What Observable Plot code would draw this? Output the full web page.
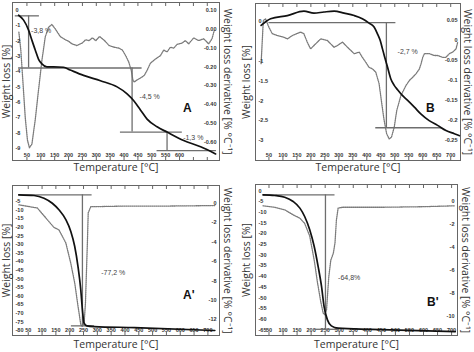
<!DOCTYPE html>
<html><head><meta charset="utf-8">
<script src="https://cdn.jsdelivr.net/npm/d3@7"></script>
<script src="https://cdn.jsdelivr.net/npm/@observablehq/plot@0.6"></script>
<style>
body{margin:0;background:#fff;}
#root{position:relative;width:474px;height:352px;overflow:hidden;background:#fff;}
.panel{position:absolute;width:237px;height:176px;}
.panel svg{position:absolute;left:0;top:0;}
</style></head><body><div id="root"></div>
<script>
// ---------- shared tick values ----------
const tempTickMarks = [50,100,150,200,250,300,350,400,450,500,550,600,650,700];
const tempLabelsA = [50,100,150,200,250,300,350,400,450,500,550,600];
const tempLabels = [50,100,150,200,250,300,350,400,450,500,550,600,650,700];

// ---------- Panel A ----------
const aWeightTemp = [20,38,56,68,80,92,104,122,146,182,206,254,315,375,411,435,459,483,519,555,615,676,730];
const aWeight = [-0.33,-0.65,-1.3,-1.96,-2.6,-3.2,-3.5,-3.7,-3.7,-3.72,-3.9,-4.25,-4.6,-5.0,-5.45,-5.9,-6.5,-7.1,-7.6,-7.95,-8.5,-8.9,-9.37];
const aDerivTemp = [21,28,36,44,52,59,68,80,92,104,116,128,140,152,170,188,200,212,230,249,262,274,286,298,312,330,346,364,382,394,406,417,426,432,437,446,458,473,483,495,513,531,543,555,567,579,591,609,621,633,651,669,687,705,717,725];
const aDeriv = [-0.015,-0.11,-0.29,-0.47,-0.59,-0.63,-0.61,-0.48,-0.32,-0.165,-0.04,0.011,0.026,0.003,-0.038,-0.055,-0.063,-0.077,-0.086,-0.073,-0.055,-0.06,-0.045,-0.06,-0.038,-0.06,-0.086,-0.095,-0.1,-0.11,-0.14,-0.174,-0.218,-0.27,-0.28,-0.27,-0.26,-0.245,-0.218,-0.18,-0.158,-0.14,-0.11,-0.12,-0.095,-0.1,-0.08,-0.073,-0.06,-0.077,-0.045,-0.06,-0.05,-0.077,-0.05,-0.006];
const aLeftTicks = [0,-1,-2,-3,-4,-5,-6,-7,-8,-9];
const aRightTicks = [0.10,0.00,-0.10,-0.20,-0.30,-0.40,-0.50,-0.60];
const aHLines = [{v:-0.37,a:8,b:95},{v:-3.77,a:20,b:465},{v:-7.95,a:387,b:610},{v:-9.15,a:519,b:733}];
const aVLines = [{t:56,a:-0.37,b:-3.77},{t:429,a:-3.77,b:-7.95},{t:555,a:-7.95,b:-9.15}];
const aNotes = [{t:65,v:-1.35,label:"-3,8 %"},{t:456,v:-5.67,label:"-4,5 %"},{t:613,v:-8.3,label:"-1,3 %"}];
const aLetter = [{t:628,v:-6.36,label:"A"}];

// ---------- Panel B ----------
const bWeightTemp = [22,56,116,175,211,247,283,319,355,384,408,426,438,448,456,464,474,486,498,510,528,546,570,593,623,653,683,713,731];
const bWeight = [-0.10,0.07,0.15,0.26,0.21,0.24,0.26,0.21,0.15,0.07,-0.04,-0.14,-0.31,-0.48,-0.69,-0.9,-1.15,-1.45,-1.61,-1.72,-1.87,-1.99,-2.16,-2.33,-2.5,-2.62,-2.75,-2.83,-2.88];
const bDerivTemp = [22,30,38,50,62,80,104,116,134,163,175,187,199,211,235,259,283,295,313,331,355,373,384,396,408,420,432,444,452,462,471,480,488,498,507,522,540,552,564,576,588,594,600,606,624,641,653,671,683,695,707,719,725];
const bDeriv = [-0.058,0.05,0.054,0.033,0.017,0.0125,0.008,0.004,0.0125,0.021,0.017,-0.004,-0.021,-0.0125,0.004,0,-0.017,-0.0125,-0.004,-0.017,-0.033,-0.029,-0.042,-0.054,-0.067,-0.071,-0.079,-0.108,-0.15,-0.2,-0.233,-0.246,-0.242,-0.217,-0.175,-0.1375,-0.1125,-0.1,-0.092,-0.083,-0.071,-0.058,-0.042,-0.033,-0.033,-0.0375,-0.0375,-0.042,-0.042,-0.033,-0.029,-0.021,-0.004];
const bLeftTicks = [0,-1,-1.5,-2,-2.5,-3];
const bRightTicks = [0.05,0,-0.05,-0.1,-0.15,-0.2,-0.25];
const bHLines = [{v:-0.03,a:50,b:504},{v:-2.68,a:432,b:671}];
const bVLines = [{t:470,a:-0.03,b:-2.68}];
const bNotes = [{t:510,v:-0.77,label:"-2,7 %"}];
const bLetter = [{t:627,v:-2.19,label:"B"}];

// ---------- Panel A' ----------
const a2WeightTemp = [16,71,107,137,161,186,204,218,230,240,246,252,262,289,434,725];
const a2Weight = [-1.1,-1.5,-3.1,-6,-9.8,-15.6,-22.4,-31,-42.8,-56.3,-68,-75.7,-77.3,-77.7,-78.3,-80];
const a2DerivTemp = [16,83,119,143,161,186,204,218,230,240,245,252,257,260,264,267,276,400,550,725];
const a2Deriv = [-0.17,-0.5,-1.7,-2.5,-2.75,-4.1,-6.2,-8.2,-10.6,-12.5,-12.7,-12.4,-10.3,-7.6,-4.1,-1.0,-0.37,-0.3,-0.3,-0.25];
const a2LeftTicks = [-5,-10,-15,-20,-25,-30,-35,-40,-45,-50,-55,-60,-65,-70,-75,-80];
const a2RightTicks = [0,-2,-4,-6,-8,-10,-12];
const a2HLines = [{v:-1.1,a:15,b:281},{v:-77.3,a:206,b:290}];
const a2VLines = [{t:246,a:-1.1,b:-77.3}];
const a2Notes = [{t:314,v:-46.7,label:"-77,2 %"}];
const a2Letter = [{t:631,v:-59.2,label:"A'"}];

// ---------- Panel B' ----------
const b2WeightTemp = [29,70,106,136,160,177,195,211,225,237,246,258,272,296,415,713];
const b2Weight = [-1.9,-2.2,-3,-5,-8.1,-12,-18.2,-26,-35.4,-44.7,-54,-60.3,-63.1,-64.2,-64.7,-65.8];
const b2DerivTemp = [29,70,106,136,160,177,195,211,223,235,243,249,255,258,263,270,279,285,290,296,311,450,600,713];
const b2Deriv = [-0.37,-0.5,-0.72,-1.16,-1.45,-1.9,-3.0,-5.1,-7.1,-8.8,-9.7,-9.86,-9.4,-8.3,-6.5,-5.1,-4.5,-3.6,-1.6,-0.58,-0.5,-0.5,-0.45,-0.37];
const b2LeftTicks = [0,-5,-10,-15,-20,-25,-30,-35,-40,-45,-50,-55,-60,-65];
const b2RightTicks = [0,-2,-4,-6,-8,-10];
const b2HLines = [{v:-1.87,a:29,b:285},{v:-64.7,a:213,b:300}];
const b2VLines = [{t:251,a:-1.87,b:-64.7}];
const b2Notes = [{t:296,v:-40.8,label:"-64,8%"}];
const b2Letter = [{t:633,v:-52.2,label:"B'"}];

// ---------- drawing ----------
const W = 237, H = 176;
const tickFont = "Liberation Sans, Arial, sans-serif";
const titleFont = "Open Sans, sans-serif";
const tickStyle = {fontSize:5.5, fontWeight:"bold", fill:"#333", fontFamily:tickFont};
const titleStyle = {fontSize:10.5, fill:"#333", fontFamily:titleFont, textAnchor:"middle", lineAnchor:"middle"};

function makePanel(p) {
  const wData = p.wT.map((t,i)=>({t, v:p.wV[i]}));
  const dData = p.dT.map((t,i)=>({t, v:p.dV[i]}));
  const base = {width:W, height:H, marginLeft:p.m[0], marginRight:p.m[1], marginTop:p.m[2], marginBottom:p.m[3]};
  const back = Plot.plot({...base,
    x:{domain:p.xDomain, axis:null},
    y:{domain:p.yR, axis:null},
    style:{background:"white", overflow:"visible"},
    marks:[
      Plot.line(dData,{x:"t",y:"v",stroke:"#7a7a7a",strokeWidth:1.3,strokeDasharray:"1,1"}),
      Plot.text(p.rTicks,{y:d=>d,frameAnchor:"right",dx:-3,textAnchor:"end",lineAnchor:"middle",text:p.rFmt,...tickStyle}),
      Plot.text(["Weight loss derivative [% °C⁻¹]"],{frameAnchor:"right",rotate:90,dx:p.rTitleDx,text:d=>d,...titleStyle})
    ]});
  const front = Plot.plot({...base,
    x:{domain:p.xDomain},
    y:{domain:p.yL, axis:null},
    style:{background:"transparent", overflow:"visible"},
    marks:[
      Plot.frame({stroke:"#666", strokeWidth:1}),
      Plot.axisX({anchor:"bottom", ticks:tempTickMarks, tickSize:-3, tickFormat:()=>"", label:null, stroke:"#666"}),
      Plot.axisX({anchor:"top", ticks:tempTickMarks, tickSize:-3, tickFormat:()=>"", label:null, stroke:"#666"}),
      Plot.text(p.xLabels,{x:d=>d, frameAnchor:"bottom", dy:-5, textAnchor:"middle", lineAnchor:"middle", text:d=>String(d), ...tickStyle}),
      Plot.text(p.lTicks,{y:d=>d, frameAnchor:"left", dx:3, textAnchor:"start", lineAnchor:"middle", text:d=>String(d), ...tickStyle}),
      Plot.ruleY(p.hLines,{y:"v", x1:"a", x2:"b", stroke:"#6e6e6e", strokeWidth:1.3}),
      Plot.ruleX(p.vLines,{x:"t", y1:"a", y2:"b", stroke:"#6e6e6e", strokeWidth:1.3}),
      Plot.line(wData,{x:"t", y:"v", stroke:"#111", strokeWidth:1.7, curve:"monotone-x"}),
      Plot.text(p.notes,{x:"t", y:"v", text:"label", textAnchor:"start", fontSize:7, fill:"#444", fontFamily:tickFont}),
      Plot.text(p.letter,{x:"t", y:"v", text:"label", fontSize:12, fontWeight:"bold", fill:"#111", fontFamily:tickFont}),
      Plot.text(["Weight loss [%]"],{frameAnchor:"left", rotate:-90, dx:p.lTitleDx, text:d=>d, ...titleStyle}),
      Plot.text(["Temperature [°C]"],{frameAnchor:"bottom", dy:p.xTitleDy, text:d=>d, ...titleStyle})
    ]});
  const div = document.createElement("div");
  div.className = "panel";
  div.style.left = p.pos[0] + "px";
  div.style.top = p.pos[1] + "px";
  div.appendChild(back);
  div.appendChild(front);
  document.getElementById("root").appendChild(div);
}

const fmt2 = d => d.toFixed(2);
const fmtS = d => String(d);

makePanel({pos:[0,0], m:[12,18,2,16], xDomain:[-2,744], yL:[-9.8,0.5], yR:[-0.698,0.143],
  wT:aWeightTemp, wV:aWeight, dT:aDerivTemp, dV:aDeriv, lTicks:aLeftTicks, rTicks:aRightTicks, rFmt:fmt2,
  xLabels:tempLabelsA, hLines:aHLines, vLines:aVLines, notes:aNotes, letter:aLetter, rTitleDx:8, lTitleDx:-6, xTitleDy:7});
makePanel({pos:[237,0], m:[18,14,3,16], xDomain:[2,735], yL:[-3.506,0.454], yR:[-0.30,0.0925],
  wT:bWeightTemp, wV:bWeight, dT:bDerivTemp, dV:bDeriv, lTicks:bLeftTicks, rTicks:bRightTicks, rFmt:fmtS,
  xLabels:tempLabels, hLines:bHLines, vLines:bVLines, notes:bNotes, letter:bLetter, rTitleDx:7, lTitleDx:-9, xTitleDy:7});
makePanel({pos:[0,176], m:[12,18,9,17], xDomain:[-7,742], yL:[-82.9,4.3], yR:[-13.64,1.82],
  wT:a2WeightTemp, wV:a2Weight, dT:a2DerivTemp, dV:a2Deriv, lTicks:a2LeftTicks, rTicks:a2RightTicks, rFmt:fmtS,
  xLabels:tempLabels, hLines:a2HLines, vLines:a2VLines, notes:a2Notes, letter:a2Letter, rTitleDx:8, lTitleDx:-6, xTitleDy:9});
makePanel({pos:[237,176], m:[18,17,8,17], xDomain:[2,721], yL:[-67.6,2.94], yR:[-11.65,1.48],
  wT:b2WeightTemp, wV:b2Weight, dT:b2DerivTemp, dV:b2Deriv, lTicks:b2LeftTicks, rTicks:b2RightTicks, rFmt:fmtS,
  xLabels:tempLabels, hLines:b2HLines, vLines:b2VLines, notes:b2Notes, letter:b2Letter, rTitleDx:8, lTitleDx:-9, xTitleDy:9});
</script></body></html>
